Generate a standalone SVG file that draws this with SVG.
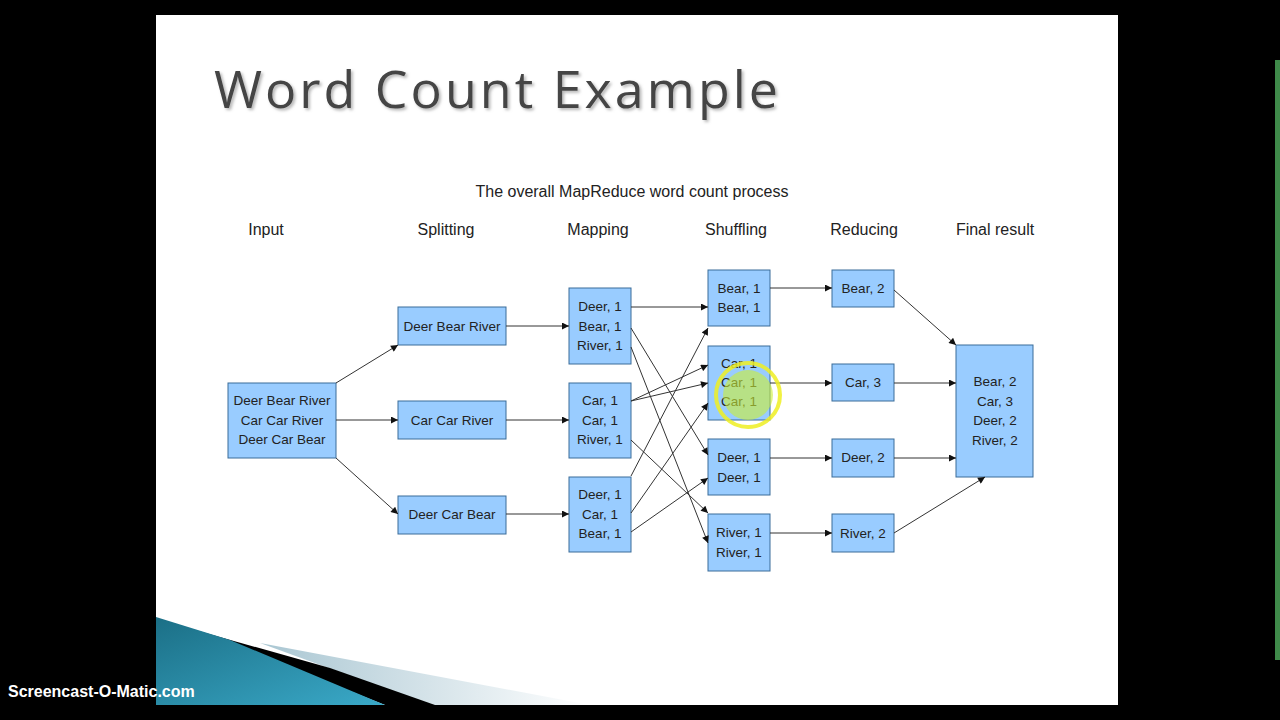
<svg xmlns="http://www.w3.org/2000/svg" width="1280" height="720" viewBox="0 0 1280 720">
<defs>
<marker id="ah" viewBox="0 0 10 10" refX="10" refY="5" markerWidth="9" markerHeight="7" orient="auto" markerUnits="userSpaceOnUse"><path d="M0,0L10,5L0,10z" fill="#111"/></marker>
<linearGradient id="teal" x1="0" y1="0" x2="1" y2="1"><stop offset="0" stop-color="#1b6f86"/><stop offset="1" stop-color="#3aa9c8"/></linearGradient>
<linearGradient id="lite" x1="0" y1="0" x2="1" y2="0"><stop offset="0" stop-color="#a9c6d2"/><stop offset="1" stop-color="#ffffff"/></linearGradient>
<filter id="sh" x="-5%" y="-20%" width="110%" height="140%"><feDropShadow dx="2" dy="2" stdDeviation="1.5" flood-color="#999" flood-opacity="0.7"/></filter>
<style>
.b{fill:#99ccff;stroke:#3a6d99;stroke-width:1}
.t{font-family:"Liberation Sans",Arial,sans-serif;font-size:13.5px;fill:#222;text-anchor:middle}
.h{font-family:"Liberation Sans",Arial,sans-serif;font-size:16px;fill:#222;text-anchor:middle}
.c line{stroke:#333;stroke-width:1;marker-end:url(#ah)}
</style>
</defs>
<rect width="1280" height="720" fill="#000"/>
<rect x="156" y="15" width="962" height="690" fill="#fff"/>
<rect x="1275" y="60" width="5" height="600" fill="#3f8a4a"/>
<polygon points="260,643 590,705 430,705" fill="url(#lite)"/>
<polygon points="195,630 330,668 435,705 385,705" fill="#000"/>
<polygon points="156,617 230,640 385,705 156,705" fill="url(#teal)"/>
<text x="214" y="108" font-family="Open Sans,DejaVu Sans,sans-serif" font-size="52" letter-spacing="3" fill="#444" filter="url(#sh)">Word Count Example</text>
<text x="8" y="697" font-family="Liberation Sans,Arial,sans-serif" font-weight="bold" font-size="16" fill="#fff">Screencast-O-Matic.com</text>
<text class="h" x="632" y="197">The overall MapReduce word count process</text>
<g class="h"><text x="266" y="235">Input</text><text x="446" y="235">Splitting</text><text x="598" y="235">Mapping</text><text x="736" y="235">Shuffling</text><text x="864" y="235">Reducing</text><text x="995" y="235">Final result</text></g>
<g id="input"><rect class="b" x="228" y="383" width="108" height="75"/><text class="t" x="282" y="405">Deer Bear River</text><text class="t" x="282" y="425">Car Car River</text><text class="t" x="282" y="444">Deer Car Bear</text></g>
<g id="s1"><rect class="b" x="398" y="307" width="108" height="38"/><text class="t" x="452" y="331">Deer Bear River</text></g>
<g id="s2"><rect class="b" x="398" y="401" width="108" height="38"/><text class="t" x="452" y="425">Car Car River</text></g>
<g id="s3"><rect class="b" x="398" y="496" width="108" height="38"/><text class="t" x="452" y="519">Deer Car Bear</text></g>
<g id="m1"><rect class="b" x="569" y="288" width="62" height="76"/><text class="t" x="600" y="311">Deer, 1</text><text class="t" x="600" y="331">Bear, 1</text><text class="t" x="600" y="350">River, 1</text></g>
<g id="m2"><rect class="b" x="569" y="383" width="62" height="75"/><text class="t" x="600" y="405">Car, 1</text><text class="t" x="600" y="425">Car, 1</text><text class="t" x="600" y="444">River, 1</text></g>
<g id="m3"><rect class="b" x="569" y="477" width="62" height="75"/><text class="t" x="600" y="499">Deer, 1</text><text class="t" x="600" y="519">Car, 1</text><text class="t" x="600" y="538">Bear, 1</text></g>
<g id="sh1"><rect class="b" x="708" y="270" width="62" height="56"/><text class="t" x="739" y="293">Bear, 1</text><text class="t" x="739" y="312">Bear, 1</text></g>
<g id="sh2"><rect class="b" x="708" y="346" width="62" height="74"/><text class="t" x="739" y="368">Car, 1</text><text class="t" x="739" y="387">Car, 1</text><text class="t" x="739" y="406">Car, 1</text></g>
<g id="sh3"><rect class="b" x="708" y="439" width="62" height="56"/><text class="t" x="739" y="462">Deer, 1</text><text class="t" x="739" y="482">Deer, 1</text></g>
<g id="sh4"><rect class="b" x="708" y="514" width="62" height="57"/><text class="t" x="739" y="537">River, 1</text><text class="t" x="739" y="557">River, 1</text></g>
<g id="r1"><rect class="b" x="832" y="270" width="62" height="37"/><text class="t" x="863" y="293">Bear, 2</text></g>
<g id="r2"><rect class="b" x="832" y="364" width="62" height="37"/><text class="t" x="863" y="387">Car, 3</text></g>
<g id="r3"><rect class="b" x="832" y="439" width="62" height="38"/><text class="t" x="863" y="462">Deer, 2</text></g>
<g id="r4"><rect class="b" x="832" y="514" width="62" height="38"/><text class="t" x="863" y="538">River, 2</text></g>
<g id="final"><rect class="b" x="956" y="345" width="77" height="132"/><text class="t" x="995" y="386">Bear, 2</text><text class="t" x="995" y="406">Car, 3</text><text class="t" x="995" y="425">Deer, 2</text><text class="t" x="995" y="445">River, 2</text></g>
<g class="c">
<line x1="336" y1="383" x2="398" y2="345"/><line x1="336" y1="420" x2="398" y2="420"/><line x1="336" y1="458" x2="398" y2="514"/>
<line x1="506" y1="326" x2="569" y2="326"/><line x1="506" y1="420" x2="569" y2="420"/><line x1="506" y1="514" x2="569" y2="514"/>
<line x1="631" y1="307" x2="708" y2="307"/><line x1="631" y1="328" x2="708" y2="455"/><line x1="631" y1="347" x2="708" y2="543"/>
<line x1="631" y1="401" x2="708" y2="365"/><line x1="631" y1="401" x2="708" y2="383"/><line x1="631" y1="440" x2="708" y2="513"/>
<line x1="631" y1="476" x2="708" y2="328"/><line x1="631" y1="513" x2="708" y2="403"/><line x1="631" y1="532" x2="708" y2="478"/>
<line x1="770" y1="288" x2="832" y2="288"/><line x1="770" y1="383" x2="832" y2="383"/><line x1="770" y1="458" x2="832" y2="458"/><line x1="770" y1="533" x2="832" y2="533"/>
<line x1="894" y1="290" x2="956" y2="345"/><line x1="894" y1="383" x2="956" y2="383"/><line x1="894" y1="458" x2="956" y2="458"/><line x1="894" y1="533" x2="985" y2="477"/>
</g>
<circle cx="748" cy="395" r="25" fill="#ccee33" opacity="0.6"/>
<circle cx="748" cy="395" r="32" fill="none" stroke="#eeee22" stroke-width="4" opacity="0.85"/>
</svg>
